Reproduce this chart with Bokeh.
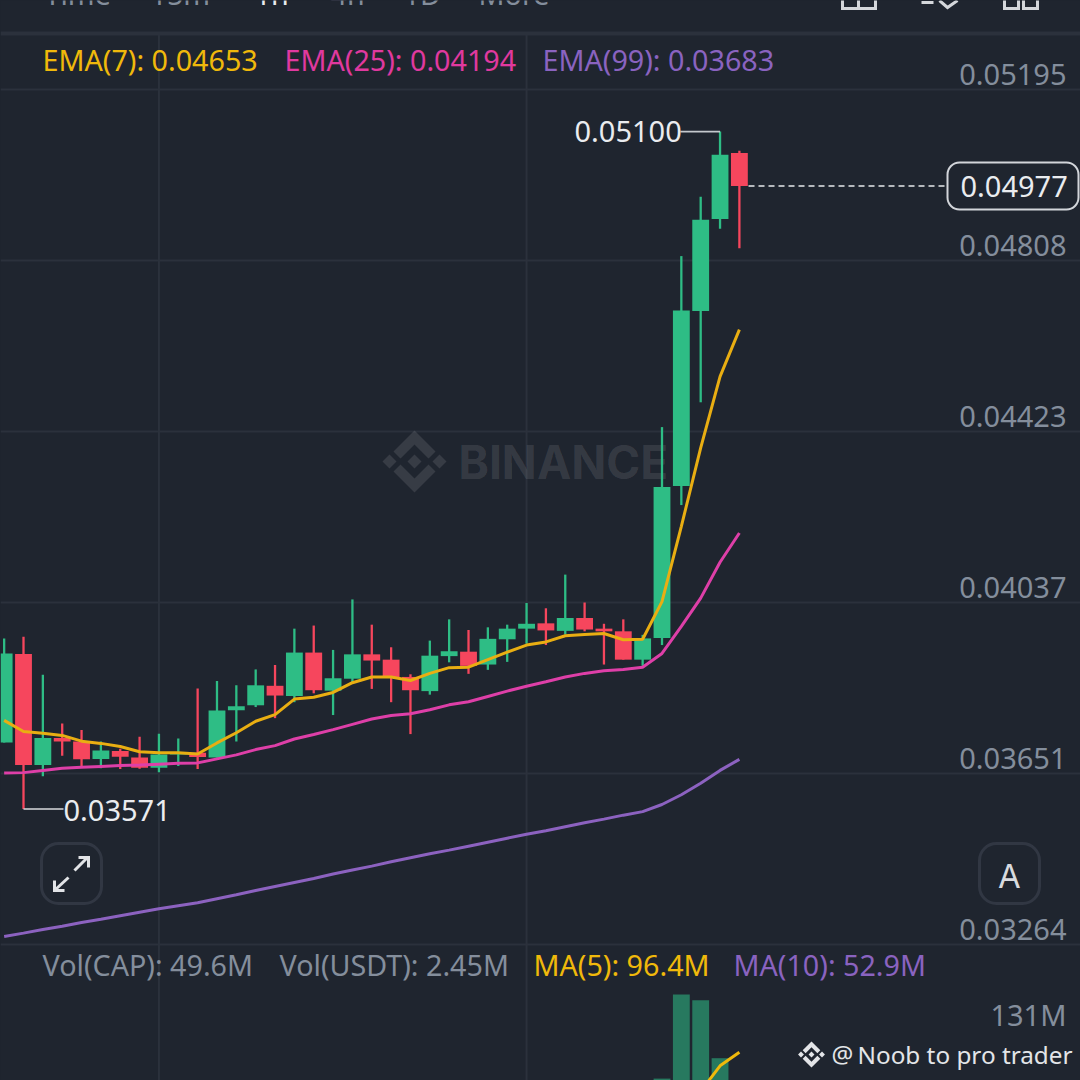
from bokeh.plotting import figure
from bokeh.models import ColumnDataSource, Range1d, FixedTicker, BoxAnnotation, GlobalInlineStyleSheet
from bokeh.core.properties import value
from bokeh.embed import file_html
from bokeh.resources import INLINE

# ---- data ----
opens = [.03721,.03921,.03670,.03731,.03723,.03684,.03702,.03687,.03664,.03694,
         .03698,.03687,.03794,.03805,.03849,.03826,.03924,.03838,.03865,.03920,
         .03908,.03869,.03837,.03916,.03926,.03897,.03954,.03978,.03990,.03973,
         .04002,.03978,.03972,.03908,.03957,.04300,.04695,.04903,.05052]
highs = [.03956,.03960,.03874,.03764,.03749,.03723,.03707,.03734,.03741,.03730,
         .03843,.03860,.03850,.03886,.03896,.03978,.03985,.03930,.04044,.03987,
         .03936,.03875,.03951,.03999,.03975,.03981,.03987,.04036,.04024,.04100,
         .04037,.03989,.03999,.03964,.04433,.04819,.04953,.05100,.05057]
lows = [.03721,.03571,.03645,.03691,.03665,.03663,.03661,.03662,.03654,.03668,
        .03661,.03687,.03723,.03801,.03776,.03812,.03832,.03783,.03853,.03842,
        .03812,.03740,.03829,.03902,.03876,.03885,.03903,.03944,.03941,.03965,
        .03972,.03897,.03908,.03894,.03941,.04257,.04489,.04881,.04837]
closes = [.03922,.03670,.03731,.03723,.03683,.03703,.03689,.03664,.03694,.03698,
          .03688,.03793,.03803,.03850,.03827,.03924,.03839,.03866,.03920,.03906,
          .03868,.03839,.03917,.03927,.03894,.03955,.03978,.03989,.03974,.04002,
          .03976,.03972,.03908,.03956,.04298,.04696,.04901,.05048,.04977]
ema7 = [.03771,.03746,.03742,.03737,.03724,.03719,.03712,.03700,.03698,.03698,
        .03695,.03720,.03743,.03769,.03784,.03819,.03823,.03834,.03856,.03869,
        .03869,.03861,.03877,.03890,.03891,.03908,.03925,.03941,.03948,.03962,
        .03965,.03967,.03953,.03954,.04039,.04209,.04386,.04547,.04653]
ema25 = [.03652,.03653,.03658,.03663,.03665,.03667,.03669,.03670,.03672,.03674,
         .03675,.03684,.03693,.03705,.03714,.03729,.03739,.03750,.03762,.03774,
         .03782,.03786,.03795,.03806,.03813,.03825,.03837,.03848,.03858,.03869,
         .03877,.03883,.03886,.03891,.03922,.03983,.04047,.04128,.04194]
ema99 = [.032831,.032907,.032989,.033063,.033147,.033219,.033298,.033377,.033456,.033524,
         .033591,.033684,.033774,.033867,.03396,.03405,.03414,.03424,.03433,.03442,
         .03452,.03461,.03470,.03478,.03487,.03496,.03505,.03514,.03522,.03531,
         .03540,.03548,.03557,.03565,.03581,.03603,.03629,.03658,.03683]
price_ticks = [.05195, .04808, .04423, .04037, .03651, .03264]
price_labels = ["0.05195", "0.04808", "0.04423", "0.04037", "0.03651", "0.03264"]
vgrid_candles = [8, 27]
last_price = .04977
high_price = .05100
low_price = .03571
high_idx = 37
low_idx = 1
vol_idx = [34, 35, 36, 37, 38]
vol_values = [55, 187, 178, 87, 49.6]
vol_ma_idx = [36, 37, 38]
vol_ma5 = [35, 75, 96.4]
vol_tick = 131
ema_legend = ["EMA(7): 0.04653", "EMA(25): 0.04194", "EMA(99): 0.03683"]
vol_legend = ["Vol(CAP): 49.6M", "Vol(USDT): 2.45M", "MA(5): 96.4M", "MA(10): 52.9M"]
tabs = ["Time", "15m", "1h", "4h", "1D", "More"]

# ---- page / scale set-up ----
W = H = 1080
S = W / 1080
BG = "#1f252f"
GRID = "#2b313c"
FONT = "Noto Sans"
GREEN = "#2ebd85"
RED = "#f6465d"
YELLOW = "#f0b90b"
PINK = "#e0399f"
PURPLE = "#8a63c0"
GREY = "#848e9c"
WHITE = "#eaecef"

X0, X1 = -0.189, 55.63
Y0, Y1 = 0.05396, 0.02958

def DX(px):
    return X0 + px * (X1 - X0) / 1080

def DY(py):
    return Y0 + py * (Y1 - Y0) / 1080

p = figure(width=W, height=H, output_backend="svg", toolbar_location=None,
           x_range=Range1d(X0, X1), y_range=Range1d(Y1, Y0),
           min_border=0, outline_line_color=None,
           background_fill_color=BG, border_fill_color=BG)
p.stylesheets = [GlobalInlineStyleSheet(css="html,body{background:%s;}" % BG)]
p.axis.visible = False
p.xgrid.visible = False
p.ygrid.ticker = FixedTicker(ticks=price_ticks)
p.ygrid.grid_line_color = GRID
p.ygrid.grid_line_width = 2
p.extra_y_ranges = {"vol": Range1d(start=52, end=1747)}


def px_font(size):
    return "%.1fpx" % (size * S)


def txt(px, py, s, color, size, align="left", baseline="middle", weight="normal", font=FONT):
    p.text([DX(px)], [DY(py)], text=[s], text_color=color, text_font=value(font),
           text_font_size=px_font(size), text_align=align, text_baseline=baseline,
           text_font_style=weight)


def poly(pts, color, width, alpha=1.0):
    p.line([DX(a) for a, _ in pts], [DY(b) for _, b in pts], line_color=color,
           line_width=width * S, line_alpha=alpha, line_join="miter", line_cap="butt")


def logo(cx, cy, k, color, alpha):
    shapes = [
        [(0, -31), (21, -10), (14, -3), (0, -17), (-14, -3), (-21, -10)],
        [(0, 31), (21, 10), (14, 3), (0, 17), (-14, 3), (-21, 10)],
        [(0, -7), (7, 0), (0, 7), (-7, 0)],
        [(-25, -7), (-18, 0), (-25, 7), (-32, 0)],
        [(25, -7), (32, 0), (25, 7), (18, 0)],
    ]
    xs = [[DX(cx + a * k) for a, _ in s] for s in shapes]
    ys = [[DY(cy + b * k) for _, b in s] for s in shapes]
    p.patches(xs, ys, fill_color=color, fill_alpha=alpha, line_color=None)


# separators and vertical grid
p.segment(vgrid_candles, [DY(34)] * 2, vgrid_candles, [Y1] * 2, line_color=GRID, line_width=2 * S)
poly([(0, 33), (1080, 33)], GRID, 4)

# watermark
logo(414, 461, 1.0, "#ffffff", 0.11)
txt(458, 461, "BINANCE", "#ffffff", 46, weight="bold", font="Inter")
p.renderers[-1].glyph.text_alpha = 0.11

# volume panel
vol_src = ColumnDataSource(dict(x=vol_idx, top=vol_values))
p.vbar(x="x", top="top", bottom=0, width=0.87, source=vol_src, y_range_name="vol",
       fill_color="#27795f", line_color=None)
p.line(vol_ma_idx, vol_ma5, y_range_name="vol", line_color=YELLOW, line_width=3 * S)

# candles
x = list(range(len(opens)))
colors = [GREEN if c >= o else RED for o, c in zip(opens, closes)]
src = ColumnDataSource(dict(x=x, o=opens, h=highs, l=lows, c=closes, color=colors,
                            top=[max(a, b) for a, b in zip(opens, closes)],
                            bot=[min(a, b) for a, b in zip(opens, closes)]))
p.segment("x", "h", "x", "l", source=src, line_color="color", line_width=2.3 * S)
p.vbar(x="x", top="top", bottom="bot", width=0.87, source=src,
       fill_color="color", line_color=None)

# moving averages
p.line(x, ema99, line_color="#8c62c0", line_width=3 * S)
p.line(x, ema25, line_color="#de3fa8", line_width=3 * S)
p.line(x, ema7, line_color="#e9ae12", line_width=3 * S)

# price tick labels
p.text([DX(1066)] * len(price_ticks), price_ticks, text=price_labels, text_color=GREY,
       text_font=value(FONT), text_font_size=px_font(29), text_align="right",
       text_baseline="middle", y_offset=-15 * S)
p.text([DX(1066)], [vol_tick], text=[f"{vol_tick}M"], y_range_name="vol", text_color=GREY,
       text_font=value(FONT), text_font_size=px_font(29), text_align="right",
       text_baseline="middle", y_offset=-16 * S)

# high / low markers
p.segment([DX(680)], [high_price], [high_idx], [high_price], line_color="#c4c8cd", line_width=1.6 * S)
txt(574, 131, "0.05100", WHITE, 29)
p.segment([low_idx], [low_price], [DX(63)], [low_price], line_color="#d8dade", line_width=1.6 * S)
txt(63, 810, "0.03571", WHITE, 29)

# last price line and box
p.segment([DX(748)], [last_price], [DX(945)], [last_price], line_color="#e8eaed",
          line_width=1.5 * S, line_dash="6 4")
p.add_layout(BoxAnnotation(left=DX(947), right=DX(1078), top=DY(162), bottom=DY(209),
                           fill_color=BG, fill_alpha=1, line_color="#d2d5da", line_width=2 * S,
                           line_alpha=1, border_radius=12, level="underlay"))
txt(960, 186, f"{last_price:.5f}", WHITE, 29)

# legends
for s, left, col in zip(ema_legend, [42, 284, 542], [YELLOW, PINK, PURPLE]):
    txt(left, 59, s, col, 28.7)
for s, left, col in zip(vol_legend, [42, 279, 533, 733], [GREY, GREY, YELLOW, PURPLE]):
    txt(left, 964, s, col, 28.7)

# top tabs, cut by the page edge
for s, left, col in zip(tabs, [44, 150, 254, 330, 403, 478], [GREY, GREY, WHITE, GREY, GREY, GREY]):
    txt(left, -7, s, col, 28.7)

# top-right icons, cut by the page edge
ICON = "#d4d7db"
poly([(842, -3), (842, 8), (875, 8), (875, -3)], ICON, 3)
poly([(858, -3), (858, 8)], ICON, 3)
poly([(921, 2), (933, 2)], ICON, 3)
poly([(939, 0), (947, 7), (957, 0)], ICON, 3)
poly([(1004, -3), (1004, 8), (1018, 8), (1018, -3)], ICON, 3)
poly([(1023, -3), (1023, 8), (1037, 8), (1037, -3)], ICON, 3)

# buttons
for left in (41, 979):
    p.add_layout(BoxAnnotation(left=DX(left), right=DX(left + 60), top=DY(843), bottom=DY(903),
                               fill_color=BG, fill_alpha=0, line_color="#313743", line_alpha=1,
                               line_width=3 * S, border_radius=17))
poly([(74, 870), (87, 857)], "#e2e4e7", 3)
poly([(78, 857), (88, 857), (88, 867)], "#e2e4e7", 3)
poly([(68, 877), (55, 889)], "#e2e4e7", 3)
poly([(54, 880), (54, 890), (64, 890)], "#e2e4e7", 3)
txt(1009, 875, "A", "#d8dade", 33, align="center", font="Inter")

# watermark of the poster
logo(811, 1054, 0.42, "#e3e5e8", 1)
txt(831, 1053, "@", "#e3e5e8", 24.3)
txt(857, 1054, "Noob to pro trader", "#e3e5e8", 24.3)

open("out.html", "w").write(file_html(p, INLINE))
